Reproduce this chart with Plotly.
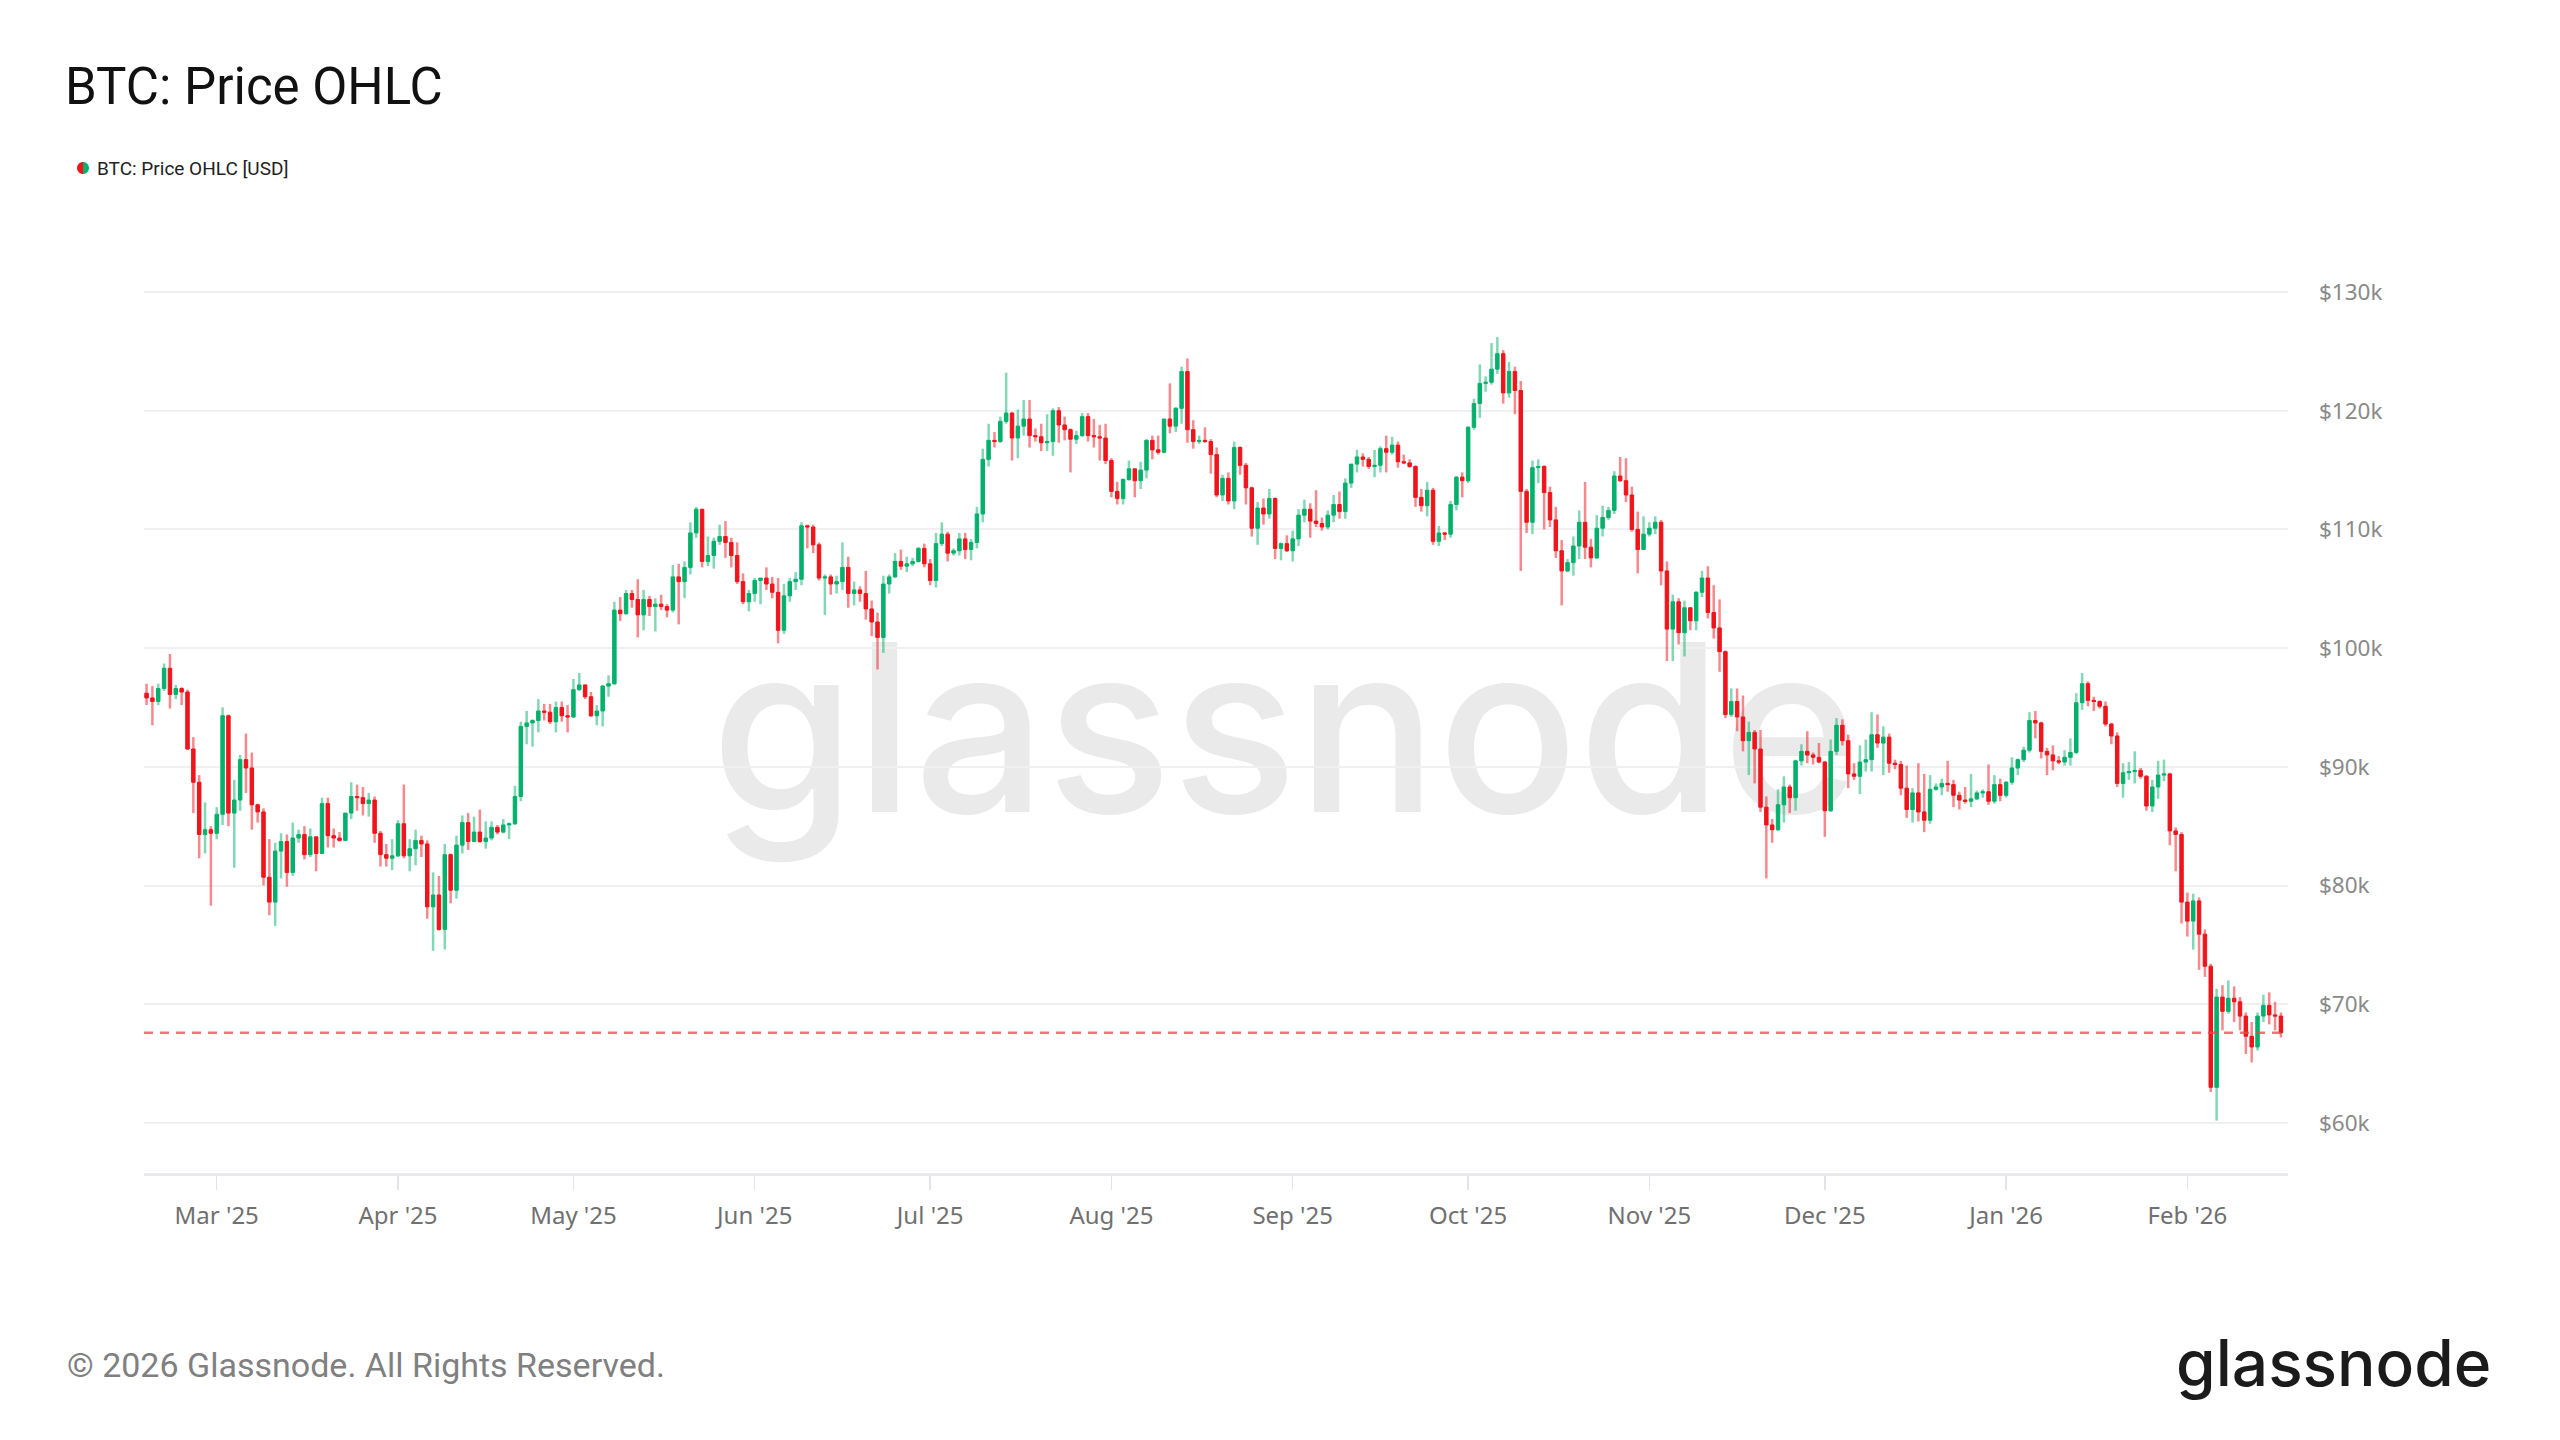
import pandas as pd
import plotly.graph_objects as go

# ---------------- data (USD thousands), daily candles from 2025-02-17 ----------------
START_DATE = "2025-02-17"

OPEN = [
    # Feb 2025
    96.2, 95.8, 95.5, 96.6, 98.3, 96.1, 96.6, 96.3, 91.5, 88.7, 84.3, 84.7,
    # Mar
    84.4, 86.0, 94.3, 86.1, 87.2, 90.6, 89.9, 86.8, 86.2, 80.7, 78.6, 82.9, 83.7, 81.1, 84.0, 84.3,
    82.6, 84.1, 82.7, 86.9, 84.2, 84.0, 83.8, 86.1, 87.5, 87.4, 86.9, 87.2, 84.4, 82.6, 82.3,
    # Apr
    82.5, 85.2, 82.5, 83.1, 83.8, 83.5, 78.2, 79.2, 76.3, 82.6, 79.6, 83.4, 85.3, 83.7, 84.5, 83.7,
    84.0, 84.9, 84.5, 85.1, 85.2, 87.5, 93.4, 93.7, 93.9, 94.7, 94.6, 93.8, 95.0, 94.3,
    # May
    94.2, 96.5, 96.9, 95.9, 94.3, 94.7, 96.8, 97.0, 103.2, 102.9, 104.6, 104.1, 102.8, 104.1, 103.5,
    103.7, 103.5, 103.2, 106.0, 105.6, 106.8, 109.7, 111.7, 107.3, 107.8, 109.0, 109.4, 108.9, 107.8,
    105.6, 103.9,
    # Jun
    104.6, 105.7, 105.9, 105.4, 104.7, 101.5, 104.4, 105.6, 105.8, 110.3, 110.2, 108.7, 105.9, 106.0,
    105.4, 105.6, 106.8, 104.6, 104.9, 104.6, 103.3, 102.2, 100.9, 105.4, 106.0, 107.3, 106.9, 107.1,
    107.3, 108.4,
    # Jul
    107.1, 105.7, 108.8, 109.6, 108.0, 108.2, 109.2, 108.3, 108.9, 111.3, 115.9, 117.5, 117.4, 119.1,
    119.8, 117.7, 118.7, 119.3, 117.9, 117.8, 117.3, 117.4, 120.0, 118.8, 118.4, 117.6, 117.9, 119.5,
    117.9, 117.8, 117.7,
    # Aug
    115.8, 113.2, 112.6, 114.2, 115.1, 114.1, 115.0, 117.5, 116.7, 116.5, 119.3, 118.7, 120.2, 123.3,
    118.4, 117.4, 117.5, 117.4, 116.3, 112.9, 114.3, 112.4, 116.9, 115.4, 113.5, 110.1, 111.8, 111.3,
    112.6, 108.4, 108.8,
    # Sep
    108.2, 109.2, 111.2, 111.7, 110.7, 110.5, 110.2, 111.2, 112.1, 111.5, 113.9, 115.5, 116.1, 115.9,
    115.3, 115.4, 116.8, 116.5, 117.1, 115.7, 115.6, 115.3, 112.7, 112.0, 113.3, 109.0, 109.7, 109.6,
    112.1, 114.4,
    # Oct
    114.1, 118.6, 120.6, 122.3, 122.4, 123.5, 124.8, 121.5, 123.3, 121.7, 113.2, 110.6, 115.2, 115.3,
    113.1, 110.8, 108.2, 106.5, 107.2, 108.6, 110.6, 108.5, 107.6, 110.1, 111.0, 111.6, 114.5, 114.1,
    112.9, 110.0, 108.3,
    # Nov
    109.6, 110.1, 110.6, 106.5, 101.6, 103.9, 101.3, 103.4, 102.3, 104.7, 105.9, 103.0, 101.7, 99.7,
    94.4, 95.5, 94.2, 92.2, 92.9, 91.5, 86.6, 85.1, 84.7, 86.8, 88.3, 87.4, 90.5, 91.3, 91.0, 90.8,
    # Dec
    90.4, 86.3, 91.3, 93.5, 92.2, 89.4, 89.2, 90.4, 90.6, 92.7, 92.0, 92.5, 90.3, 90.2, 88.2, 86.4,
    87.8, 86.2, 85.5, 88.1, 88.3, 88.6, 88.5, 87.6, 87.2, 87.1, 87.3, 87.8, 87.9, 87.1, 88.5,
    # Jan 2026
    87.6, 88.7, 89.9, 90.6, 91.4, 93.9, 93.7, 91.3, 91.0, 90.5, 90.4, 90.8, 91.2, 95.4, 97.0, 95.6,
    95.5, 95.1, 93.6, 92.6, 88.6, 89.5, 89.6, 89.7, 89.2, 86.7, 88.3, 89.3, 89.4, 84.6, 84.3,
    # Feb 2026
    78.6, 77.0, 78.7, 75.9, 73.2, 63.0, 70.6, 69.4, 70.5, 70.2, 69.0, 67.3, 66.4, 69.0, 69.9, 69.1, 69.0,
]

HIGH = [
    97.0, 96.8, 97.0, 98.7, 99.5, 96.9, 96.7, 96.5, 92.5, 89.3, 87.0, 85.0,
    86.6, 95.0, 94.4, 88.9, 91.0, 92.8, 91.2, 86.9, 86.5, 83.9, 83.6, 84.4, 84.3, 85.3, 84.7, 85.0,
    84.8, 84.1, 87.4, 87.4, 84.8, 84.5, 86.1, 88.7, 88.5, 88.3, 87.8, 87.5, 84.6, 83.5, 83.9,
    85.5, 88.5, 83.9, 84.7, 84.2, 83.8, 81.1, 80.8, 83.5, 82.7, 84.2, 85.9, 86.1, 85.8, 86.4, 85.4,
    85.4, 85.1, 85.6, 85.3, 88.4, 93.8, 94.7, 94.0, 95.7, 95.3, 95.3, 95.5, 95.5, 95.2,
    97.4, 97.9, 96.9, 96.3, 95.2, 96.9, 97.7, 103.9, 104.3, 104.9, 104.9, 105.8, 104.9, 104.4, 104.2,
    104.5, 103.7, 107.0, 107.1, 107.3, 110.6, 111.9, 111.7, 109.4, 109.3, 110.4, 110.7, 109.3, 108.9,
    106.3, 104.9,
    105.9, 105.9, 106.8, 106.0, 105.9, 105.4, 105.9, 106.4, 110.6, 110.4, 110.4, 108.9, 106.2, 106.2,
    106.1, 108.9, 107.7, 105.6, 105.2, 106.5, 104.0, 103.0, 106.1, 106.2, 108.0, 108.3, 107.7, 107.6,
    108.5, 108.8,
    107.5, 109.7, 110.6, 109.8, 108.4, 109.7, 109.7, 109.2, 111.9, 116.8, 118.9, 118.2, 119.5, 123.2,
    119.9, 120.1, 120.9, 120.9, 118.5, 118.9, 119.7, 120.2, 120.3, 119.5, 118.5, 118.3, 119.8, 119.8,
    119.3, 118.8, 118.9,
    116.0, 114.0, 114.3, 115.8, 115.1, 115.7, 117.6, 117.9, 117.9, 119.3, 122.3, 120.3, 123.7, 124.4,
    119.2, 117.9, 118.6, 117.6, 116.9, 114.6, 114.8, 117.4, 117.0, 115.6, 113.6, 112.3, 112.6, 113.4,
    112.7, 108.9, 109.5,
    109.9, 111.7, 112.5, 112.2, 113.3, 111.0, 111.6, 112.9, 113.2, 114.3, 115.5, 116.7, 116.4, 116.1,
    116.7, 117.0, 117.9, 117.8, 117.4, 116.3, 115.9, 115.4, 113.4, 114.0, 113.5, 110.3, 109.8, 112.4,
    114.5, 114.8,
    118.7, 121.0, 123.9, 122.9, 125.7, 126.2, 125.1, 124.1, 123.7, 122.5, 113.4, 115.8, 115.9, 115.4,
    113.6, 111.9, 109.1, 107.5, 109.4, 111.6, 114.0, 109.2, 111.2, 112.0, 111.9, 114.9, 116.1, 116.0,
    113.6, 111.5, 111.1,
    110.6, 111.1, 110.8, 107.3, 104.5, 104.2, 104.0, 103.4, 104.8, 106.5, 106.9, 105.3, 104.1, 99.8,
    96.6, 96.6, 96.0, 93.8, 93.1, 93.1, 87.5, 85.6, 88.1, 89.2, 88.5, 90.6, 91.9, 93.0, 91.2, 92.0,
    90.5, 92.3, 94.1, 94.0, 92.7, 90.3, 91.8, 92.3, 94.6, 94.4, 93.4, 92.8, 90.6, 90.5, 90.1, 88.2,
    90.3, 89.4, 89.3, 88.6, 89.0, 90.5, 88.9, 87.9, 88.3, 89.4, 88.0, 88.1, 90.2, 89.3, 89.0,
    88.8, 90.8, 90.7, 91.7, 94.6, 94.7, 93.8, 91.6, 91.8, 90.9, 91.4, 92.4, 96.2, 97.9, 97.2, 95.9,
    95.6, 95.5, 93.7, 92.9, 90.3, 90.4, 91.3, 89.9, 89.3, 88.9, 90.5, 90.6, 89.5, 84.9, 84.5,
    79.4, 79.3, 79.0, 76.3, 73.4, 71.3, 71.6, 72.0, 71.5, 70.6, 69.3, 68.5, 69.3, 70.8, 71.0, 70.2, 69.3,
]

LOW = [
    95.2, 93.5, 95.2, 96.4, 94.9, 95.7, 95.2, 91.4, 86.1, 82.3, 82.7, 78.3,
    83.9, 85.1, 85.0, 81.5, 86.3, 87.8, 84.7, 85.3, 80.0, 77.5, 76.6, 80.6, 79.9, 80.8, 83.6, 82.2,
    82.4, 81.2, 82.7, 83.2, 83.2, 83.7, 83.8, 85.6, 86.3, 85.9, 85.8, 83.6, 81.6, 81.6, 81.3,
    82.4, 82.3, 81.2, 81.7, 82.4, 77.2, 74.5, 76.2, 74.6, 78.5, 78.9, 82.7, 83.0, 83.7, 83.6, 83.1,
    83.8, 84.3, 84.4, 83.9, 85.1, 87.1, 91.9, 91.7, 92.9, 93.9, 93.6, 92.9, 93.8, 92.9,
    94.1, 96.4, 95.7, 94.2, 93.5, 93.4, 95.9, 96.9, 102.3, 102.8, 103.4, 100.9, 101.5, 102.7, 101.4,
    103.2, 102.6, 103.0, 102.0, 104.2, 106.2, 109.3, 106.8, 106.9, 106.7, 108.7, 107.6, 106.8, 105.4,
    103.7, 103.1,
    103.9, 103.7, 104.9, 104.2, 100.4, 101.2, 103.9, 104.9, 105.3, 108.4, 108.0, 105.7, 102.8, 104.5,
    104.6, 104.9, 103.4, 103.6, 103.9, 102.4, 101.0, 98.2, 99.6, 104.6, 105.9, 106.6, 106.4, 106.9,
    107.2, 106.8,
    105.3, 105.1, 108.6, 107.3, 107.8, 107.8, 107.5, 107.4, 108.4, 110.6, 115.3, 116.9, 117.3, 118.9,
    115.8, 116.0, 117.9, 116.9, 117.4, 116.6, 116.6, 116.2, 117.3, 117.5, 114.8, 117.2, 117.8, 117.4,
    116.9, 115.8, 115.5,
    112.7, 112.1, 112.1, 114.1, 112.7, 113.4, 114.3, 115.9, 116.3, 116.4, 118.1, 118.2, 118.9, 117.3,
    116.8, 117.2, 117.3, 114.7, 112.7, 112.4, 112.1, 111.7, 114.6, 112.1, 109.4, 108.7, 110.4, 110.9,
    107.5, 107.4, 108.1,
    107.3, 108.6, 110.6, 109.3, 110.2, 109.9, 110.0, 110.6, 110.9, 110.9, 113.5, 114.8, 115.3, 115.1,
    114.4, 114.8, 114.8, 116.3, 115.2, 115.5, 115.2, 111.9, 111.5, 111.1, 108.7, 108.6, 109.1, 109.3,
    111.6, 112.7,
    113.9, 118.4, 119.4, 121.6, 122.2, 123.1, 120.6, 121.1, 119.7, 106.5, 109.7, 109.6, 113.9, 110.0,
    110.2, 107.6, 103.6, 106.4, 106.1, 107.5, 107.5, 106.8, 107.5, 109.4, 110.8, 111.3, 114.0, 112.3,
    109.8, 106.3, 108.3,
    109.4, 109.6, 105.3, 98.9, 98.9, 100.3, 99.3, 101.5, 101.5, 104.3, 102.5, 100.8, 98.0, 94.1,
    94.2, 93.0, 91.3, 89.3, 88.6, 86.2, 80.6, 83.6, 84.6, 85.3, 86.1, 86.3, 90.1, 90.3, 90.2, 90.3,
    84.1, 86.2, 91.0, 91.8, 88.2, 88.9, 87.7, 89.6, 89.6, 91.6, 89.3, 89.5, 89.8, 87.6, 85.7, 85.3,
    85.4, 84.5, 85.2, 88.0, 87.6, 87.9, 86.6, 86.4, 86.9, 86.6, 87.2, 87.4, 86.8, 86.9, 87.1,
    87.4, 88.5, 89.3, 90.4, 91.2, 92.4, 90.7, 89.3, 89.7, 90.2, 90.1, 90.1, 91.1, 94.8, 95.1, 94.7,
    94.9, 93.4, 91.9, 88.3, 87.4, 88.9, 88.6, 89.0, 86.3, 86.2, 87.3, 88.8, 83.4, 81.2, 76.8,
    75.7, 74.6, 72.9, 72.3, 62.6, 60.2, 67.8, 69.2, 68.5, 67.8, 65.8, 65.1, 66.1, 68.5, 68.3, 67.8, 67.2,
]

CLOSE = [
    95.8, 95.5, 96.6, 98.3, 96.1, 96.6, 96.3, 91.5, 88.7, 84.3, 84.7, 84.4,
    86.0, 94.3, 86.1, 87.2, 90.6, 89.9, 86.8, 86.2, 80.7, 78.6, 82.9, 83.7, 81.1, 84.0, 84.3, 82.6,
    84.1, 82.7, 86.9, 84.2, 84.0, 83.8, 86.1, 87.5, 87.4, 86.9, 87.2, 84.4, 82.6, 82.3, 82.5,
    85.2, 82.5, 83.1, 83.8, 83.5, 78.2, 79.2, 76.3, 82.6, 79.6, 83.4, 85.3, 83.7, 84.5, 83.7, 84.0,
    84.9, 84.5, 85.1, 85.2, 87.5, 93.4, 93.7, 93.9, 94.7, 94.6, 93.8, 95.0, 94.3, 94.2,
    96.5, 96.9, 95.9, 94.3, 94.7, 96.8, 97.0, 103.2, 102.9, 104.6, 104.1, 102.8, 104.1, 103.5, 103.7,
    103.5, 103.2, 106.0, 105.6, 106.8, 109.7, 111.7, 107.3, 107.8, 109.0, 109.4, 108.9, 107.8, 105.6,
    103.9, 104.6,
    105.7, 105.9, 105.4, 104.7, 101.5, 104.4, 105.6, 105.8, 110.3, 110.2, 108.7, 105.9, 106.0, 105.4,
    105.6, 106.8, 104.6, 104.9, 104.6, 103.3, 102.2, 100.9, 105.4, 106.0, 107.3, 106.9, 107.1, 107.3,
    108.4, 107.1,
    105.7, 108.8, 109.6, 108.0, 108.2, 109.2, 108.3, 108.9, 111.3, 115.9, 117.5, 117.4, 119.1, 119.8,
    117.7, 118.7, 119.3, 117.9, 117.8, 117.3, 117.4, 120.0, 118.8, 118.4, 117.6, 117.9, 119.5, 117.9,
    117.8, 117.7, 115.8,
    113.2, 112.6, 114.2, 115.1, 114.1, 115.0, 117.5, 116.7, 116.5, 119.3, 118.7, 120.2, 123.3, 118.4,
    117.4, 117.5, 117.4, 116.3, 112.9, 114.3, 112.4, 116.9, 115.4, 113.5, 110.1, 111.8, 111.3, 112.6,
    108.4, 108.8, 108.2,
    109.2, 111.2, 111.7, 110.7, 110.5, 110.2, 111.2, 112.1, 111.5, 113.9, 115.5, 116.1, 115.9, 115.3,
    115.4, 116.8, 116.5, 117.1, 115.7, 115.6, 115.3, 112.7, 112.0, 113.3, 109.0, 109.7, 109.6, 112.1,
    114.4, 114.1,
    118.6, 120.6, 122.3, 122.4, 123.5, 124.8, 121.5, 123.3, 121.7, 113.2, 110.6, 115.2, 115.3, 113.1,
    110.8, 108.2, 106.5, 107.2, 108.6, 110.6, 108.5, 107.6, 110.1, 111.0, 111.6, 114.5, 114.1, 112.9,
    110.0, 108.3, 109.6,
    110.1, 110.6, 106.5, 101.6, 103.9, 101.3, 103.4, 102.3, 104.7, 105.9, 103.0, 101.7, 99.7, 94.4,
    95.5, 94.2, 92.2, 92.9, 91.5, 86.6, 85.1, 84.7, 86.8, 88.3, 87.4, 90.5, 91.3, 91.0, 90.8, 90.4,
    86.3, 91.3, 93.5, 92.2, 89.4, 89.2, 90.4, 90.6, 92.7, 92.0, 92.5, 90.3, 90.2, 88.2, 86.4, 87.8,
    86.2, 85.5, 88.1, 88.3, 88.6, 88.5, 87.6, 87.2, 87.1, 87.3, 87.8, 87.9, 87.1, 88.5, 87.6,
    88.7, 89.9, 90.6, 91.4, 93.9, 93.7, 91.3, 91.0, 90.5, 90.4, 90.8, 91.2, 95.4, 97.0, 95.6, 95.5,
    95.1, 93.6, 92.6, 88.6, 89.5, 89.6, 89.7, 89.2, 86.7, 88.3, 89.3, 89.4, 84.6, 84.3, 78.6,
    77.0, 78.7, 75.9, 73.2, 63.0, 70.6, 69.4, 70.5, 70.2, 69.0, 67.3, 66.4, 69.0, 69.9, 69.1, 69.0, 67.6,
]

TICK_DATES = ["2025-03-01", "2025-04-01", "2025-05-01", "2025-06-01", "2025-07-01", "2025-08-01",
              "2025-09-01", "2025-10-01", "2025-11-01", "2025-12-01", "2026-01-01", "2026-02-01"]
TICK_LABELS = ["Mar '25", "Apr '25", "May '25", "Jun '25", "Jul '25", "Aug '25",
               "Sep '25", "Oct '25", "Nov '25", "Dec '25", "Jan '26", "Feb '26"]
Y_TICKS = [60000, 70000, 80000, 90000, 100000, 110000, 120000, 130000]
Y_TICK_LABELS = ["$60k", "$70k", "$80k", "$90k", "$100k", "$110k", "$120k", "$130k"]

TITLE = "BTC: Price OHLC"
LEGEND_LABEL = "BTC: Price OHLC [USD]"
FOOTER = "© 2026 Glassnode. All Rights Reserved."
BRAND = "glassnode"

# ---------------- styling ----------------
GREEN = "#03b16c"
RED = "#f0141b"
GREEN_WICK = "rgba(3,177,108,0.5)"
RED_WICK = "rgba(240,20,27,0.5)"

W, H = 2560, 1440
L, R, T, B = 144, 272, 240, 267
PX0, PX1 = L, W - R
PY0, PY1 = T, H - B


def pxx(px):
    return (px - PX0) / (PX1 - PX0)


def pxy(py):
    return (PY1 - py) / (PY1 - PY0)


n = len(CLOSE)
assert len(OPEN) == n and len(HIGH) == n and len(LOW) == n, (len(OPEN), len(HIGH), len(LOW), n)

dates = pd.date_range(START_DATE, periods=n, freq="D")
o = [v * 1000 for v in OPEN]
h = [v * 1000 for v in HIGH]
lo = [v * 1000 for v in LOW]
c = [v * 1000 for v in CLOSE]
body_hi = [max(a, b) for a, b in zip(o, c)]
body_lo = [min(a, b) for a, b in zip(o, c)]


def wicks(up):
    xs, ys = [], []
    for d, oo, cc, hh, ll in zip(dates, o, c, h, lo):
        if (cc >= oo) == up:
            xs += [d, d, None]
            ys += [ll, hh, None]
    return xs, ys


fig = go.Figure()
fig.add_trace(go.Candlestick(
    x=dates, open=o, high=body_hi, low=body_lo, close=c,
    increasing=dict(line=dict(color=GREEN, width=1), fillcolor=GREEN),
    decreasing=dict(line=dict(color=RED, width=1), fillcolor=RED),
    whiskerwidth=0, hoverinfo="skip", showlegend=False,
))
for up, col in ((True, GREEN_WICK), (False, RED_WICK)):
    xs, ys = wicks(up)
    fig.add_trace(go.Scatter(x=xs, y=ys, mode="lines", line=dict(color=col, width=2.5),
                             connectgaps=False, hoverinfo="skip", showlegend=False))

x_range = [dates[0] - pd.Timedelta(hours=10.5), dates[-1] + pd.Timedelta(hours=29)]

fig.update_layout(
    width=W, height=H, autosize=False,
    paper_bgcolor="white", plot_bgcolor="white",
    margin=dict(l=L, r=R, t=T, b=B, pad=0),
    showlegend=False, boxgap=0.15,
    title=dict(text=TITLE, x=65 / W, xanchor="left", xref="container",
               y=1 - 86 / H, yanchor="middle", yref="container",
               font=dict(family="Roboto", size=51, color="#111111")),
    xaxis=dict(type="date", range=x_range, rangeslider=dict(visible=False),
               showgrid=False, zeroline=False, showline=True, linecolor="#e9e9ee", linewidth=3,
               ticks="outside", ticklen=14, tickwidth=1.5, tickcolor="#e4e4e8",
               tickvals=TICK_DATES, ticktext=TICK_LABELS, ticklabelstandoff=5,
               tickfont=dict(family="Noto Sans", size=24, color="#707070")),
    yaxis=dict(side="right", range=[55780, 134380], tickvals=Y_TICKS, ticktext=Y_TICK_LABELS,
               showgrid=True, gridcolor="#f0f0f3", gridwidth=2, zeroline=False, showline=False,
               ticks="", ticklabelstandoff=30,
               tickfont=dict(family="Noto Sans", size=22.5, color="#8a8a8a")),
)

# last price dashed line
fig.add_shape(type="line", xref="paper", yref="y", x0=0, x1=1, y0=c[-1], y1=c[-1],
              line=dict(color="rgba(240,70,70,0.75)", width=2.5, dash="9px,7px"), layer="above")

# watermark (behind data)
fig.add_shape(type="rect", xref="paper", yref="paper", layer="below",
              x0=pxx(705), x1=pxx(1865), y0=pxy(825), y1=pxy(615),
              line=dict(width=0), fillcolor="rgba(0,0,0,0)",
              label=dict(text=BRAND, textposition="middle center", padding=0,
                         font=dict(family="Inter", size=233, color="#eaeaea", weight=500)))

# legend marker: half red / half green dot
fig.add_shape(type="path", xref="paper", yref="paper", xsizemode="pixel", ysizemode="pixel",
              xanchor=pxx(83), yanchor=pxy(168),
              path="M0,-6 C-3.3,-6 -6,-3.3 -6,0 C-6,3.3 -3.3,6 0,6 Z",
              fillcolor=RED, line=dict(width=0))
fig.add_shape(type="path", xref="paper", yref="paper", xsizemode="pixel", ysizemode="pixel",
              xanchor=pxx(83), yanchor=pxy(168),
              path="M0,-6 C3.3,-6 6,-3.3 6,0 C6,3.3 3.3,6 0,6 Z",
              fillcolor=GREEN, line=dict(width=0))

fig.add_annotation(text=LEGEND_LABEL, xref="paper", yref="paper", x=pxx(95), y=pxy(168),
                   xanchor="left", yanchor="middle", showarrow=False,
                   font=dict(family="Roboto", size=19, color="#222222"))
fig.add_annotation(text=FOOTER, xref="paper", yref="paper", x=pxx(65), y=pxy(1365),
                   xanchor="left", yanchor="middle", showarrow=False,
                   font=dict(family="Roboto", size=34, color="#808080"))
fig.add_annotation(text=BRAND, xref="paper", yref="paper", x=pxx(2493), y=pxy(1362),
                   xanchor="right", yanchor="middle", showarrow=False,
                   font=dict(family="Inter", size=64, color="#1b1b1b", weight=500))

fig.write_html("out.html", config=dict(displayModeBar=False, staticPlot=True),
               post_script="document.body.style.margin='0';document.body.style.padding='0';"
                           "document.body.style.overflow='hidden';")
